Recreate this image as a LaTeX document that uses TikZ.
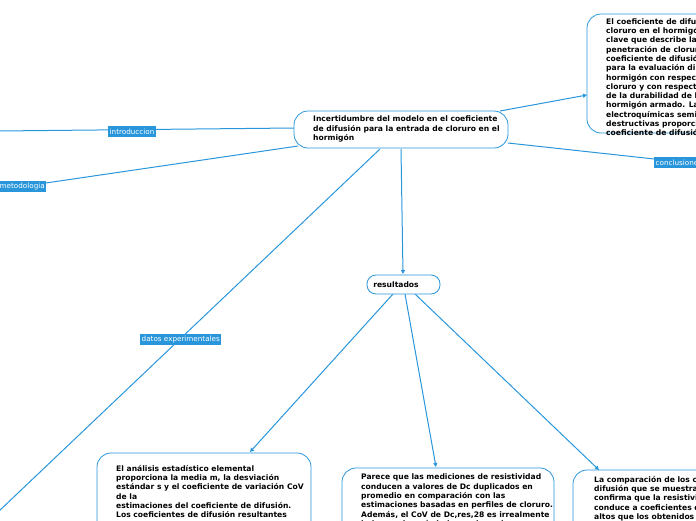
\documentclass[tikz,border=0pt]{standalone}
\usepackage{fontspec}
\setmainfont{DejaVu Sans}
\usetikzlibrary{arrows.meta}
\definecolor{mblue}{RGB}{41,150,220}
\tikzset{
 every node/.style={font=\bfseries\fontsize{7.6}{9.3}\selectfont},
 box/.style={draw=mblue,line width=0.8pt,rounded corners=14pt,fill=white},
 lbl/.style={fill=mblue,text=white,font=\fontsize{7.2}{8}\selectfont,inner sep=1.5pt,minimum height=11pt,anchor=west},
 conn/.style={draw=mblue,line width=1pt},
 arr/.style={conn,-{Triangle[length=4pt,width=4pt]}},
 txt/.style={align=left,anchor=north west,inner sep=0pt}
}
\begin{document}
\begin{tikzpicture}[x=1pt,y=-1pt]
\useasboundingbox (0,0) rectangle (696,520);
\clip (0,0) rectangle (696,520);
% connectors
\coordinate (e1) at (-2,131);
\coordinate (e2) at (-2,190);
\coordinate (e3) at (700,164);
\coordinate (e4) at (-2,512);
\draw[conn] (294,128) -- (e1);
\draw[conn] (298,146) -- (e2);
\draw[conn] (508,143) -- (e3);
\draw[conn] (380,149) -- (e4);
\draw[arr] (500,111) -- (587,95);
\draw[arr] (401,149) -- (403,274);
\draw[arr] (393,294) -- (250,452);
\draw[arr] (405,294) -- (436,467);
\draw[arr] (415,294) -- (599,470);
% central
\draw[box] (294,111) rectangle (508,148);
\node[txt] (c) at (313,116) {Incertidumbre del modelo en el coeficiente\\de difusión para la entrada de cloruro en el\\hormigón};
% top right
\draw[box] (587,14) rectangle (720,133);
\node[txt] (tr) at (606,18) {El coeficiente de difusión de\\cloruro en el hormigón es un parámetro\\clave que describe la resistencia a la\\penetración de cloruro. El\\coeficiente de difusión se utiliza\\para la evaluación directa del\\hormigón con respecto a la entrada de\\cloruro y con respecto a la predicción\\de la durabilidad de las estructuras de\\hormigón armado. Las técnicas\\electroquímicas semidestructivas y no\\destructivas proporcionan el\\coeficiente de difusión.};
% labels
\node[lbl] (intro) at (108,131.5) {introduccion};
\node[lbl] (met) at (-2,186.5) {metodologia};
\node[lbl] (concl) at (654,162.5) {conclusiones};
\node[lbl] (datos) at (140,339.5) {datos experimentales};
% resultados
\draw[box,rounded corners=9pt] (367,275) rectangle (440,294);
\node (res) at (396,284.5) {resultados};
% bottom boxes
\draw[box] (97,453) rectangle (311,560);
\node[txt] (b1) at (116,465) {El análisis estadístico elemental\\proporciona la media m, la desviación\\estándar s y el coeficiente de variación CoV\\de la\\estimaciones del coeficiente de difusión.\\Los coeficientes de difusión resultantes\\son todos};
\draw[box] (342,468) rectangle (554,560);
\node[txt] (b2) at (361,474) {Parece que las mediciones de resistividad\\conducen a valores de Dc duplicados en\\promedio en comparación con las\\estimaciones basadas en perfiles de cloruro.\\Además, el CoV de Dc,res,28 es irrealmente\\bajo, mucho más bajo que los valores};
\draw[box] (573,470) rectangle (760,560);
\node[txt] (b3) at (594,476) {La comparación de los coeficientes de\\difusión que se muestran en la Tabla\\confirma que la resistividad eléctrica\\conduce a coeficientes de difusión más\\altos que los obtenidos a partir};
\end{tikzpicture}
\end{document}
